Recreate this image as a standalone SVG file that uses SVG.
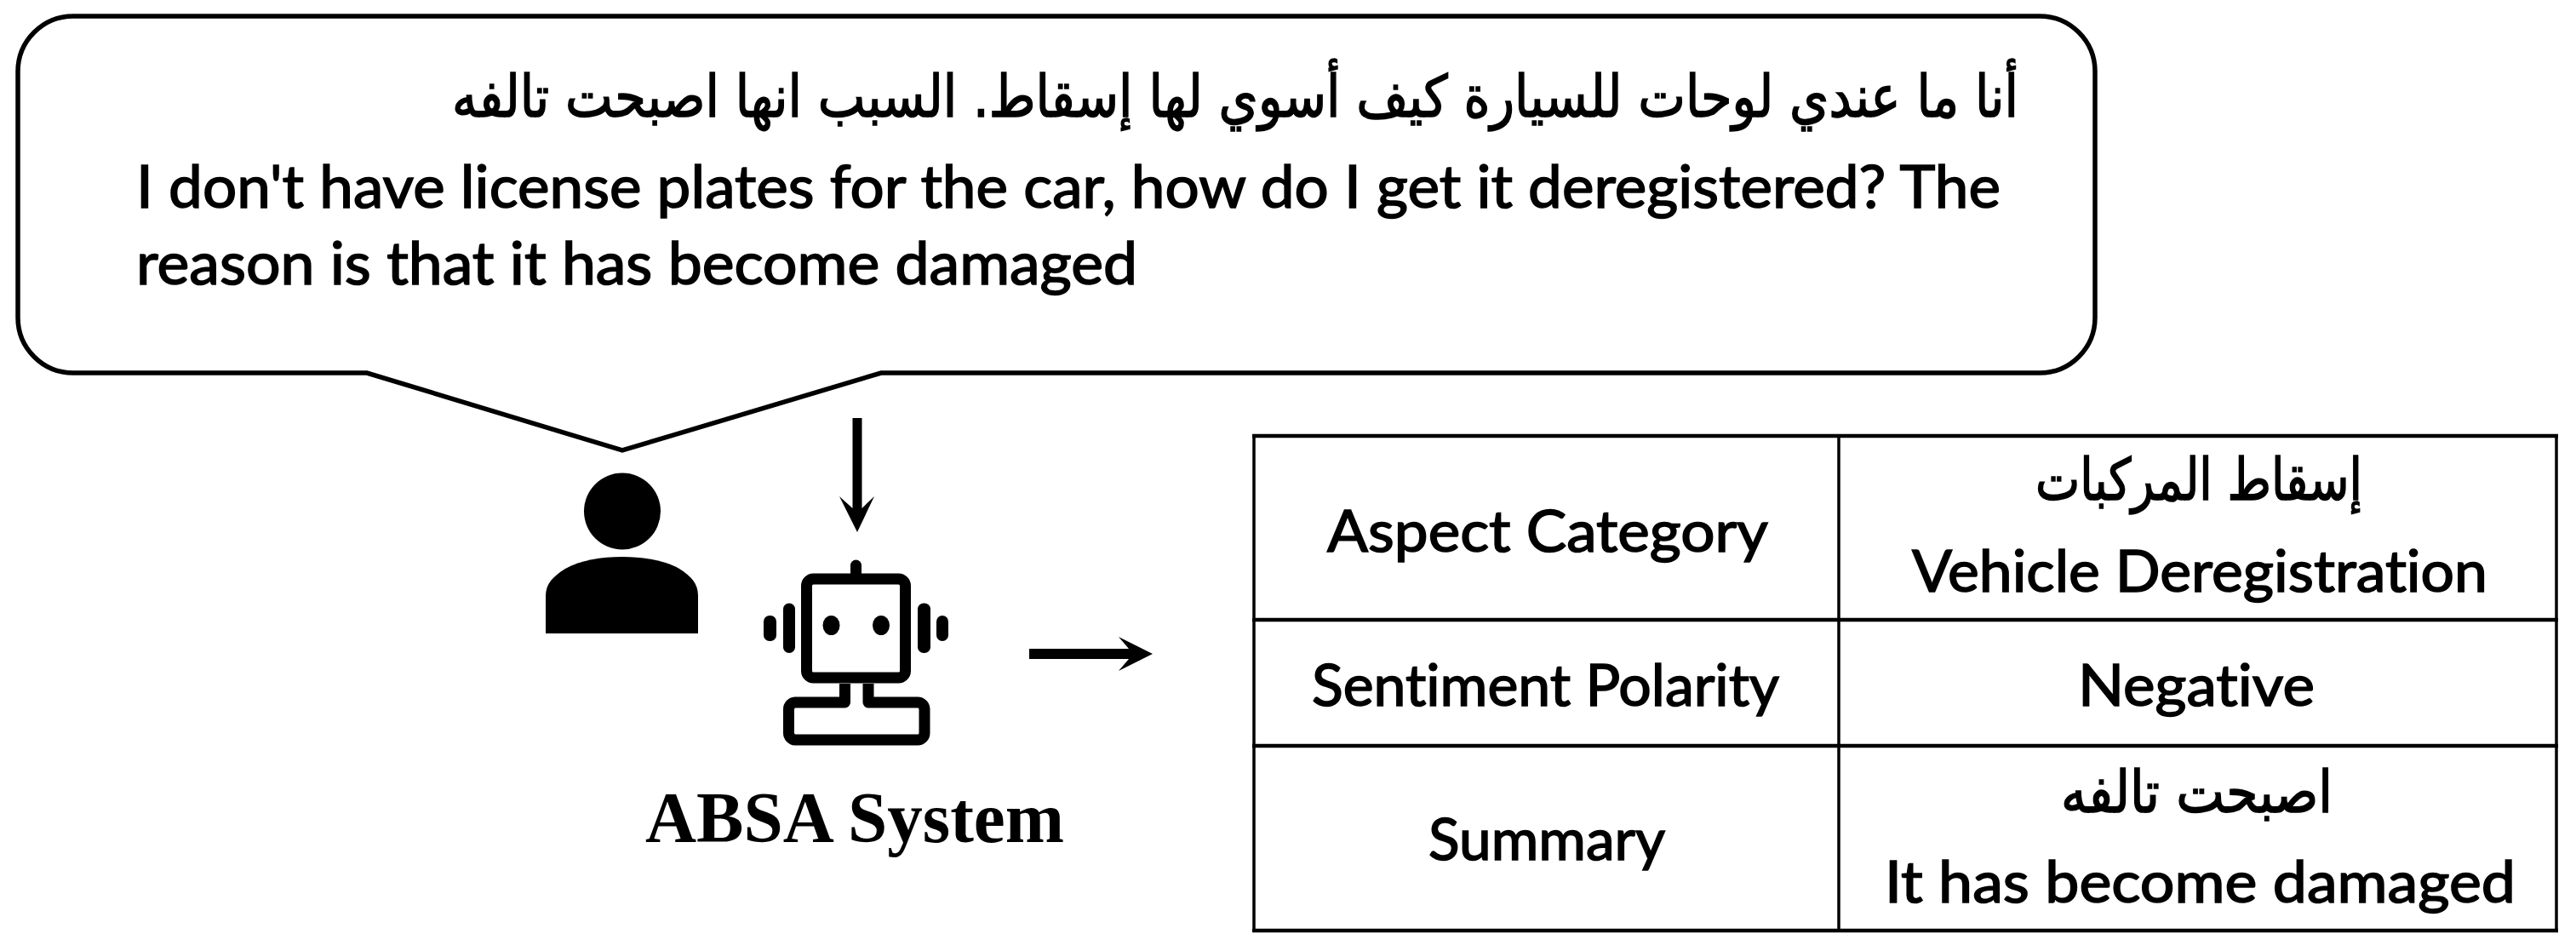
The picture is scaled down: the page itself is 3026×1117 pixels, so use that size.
<svg xmlns="http://www.w3.org/2000/svg" width="3026" height="1117" viewBox="0 0 3026 1117">
<style>
.en{font-family:"Lato","Liberation Sans",sans-serif;fill:#000;stroke:#000;stroke-width:1.6;font-variant-ligatures:none}
.b{font-size:70px}
.t{font-size:68px}
.ar{font-family:"DejaVu Sans",sans-serif;fill:#000;stroke:#000;stroke-width:1.6;font-size:68px}
.line{stroke:#000;fill:none}
.blk{fill:#000}
.rob{fill:none;stroke:#000;stroke-width:13;stroke-linejoin:round}
</style>
<rect width="3026" height="1117" fill="#fff"/>
<g id="bubble">
<path class="line" stroke-width="5.500" d="M86 19H2396A65 65 0 0 1 2461 84V373A65 65 0 0 1 2396 438H1035L731 529L431 438H86A65 65 0 0 1 21 373V84A65 65 0 0 1 86 19Z"/>
<text class="ar" x="531" y="137" textLength="1840" lengthAdjust="spacingAndGlyphs">أنا ما عندي لوحات للسيارة كيف أسوي لها إسقاط. السبب انها اصبحت تالفه</text>
<text class="en b" x="160" y="244" textLength="2190" lengthAdjust="spacingAndGlyphs">I don't have license plates for the car, how do I get it deregistered? The</text>
<text class="en b" x="160" y="334" textLength="1176" lengthAdjust="spacingAndGlyphs">reason is that it has become damaged</text>
</g>
<g id="user">
<ellipse class="blk" cx="731" cy="600.500" rx="45" ry="45"/>
<path class="blk" d="M641 744V700C641 685 650 677 664 668C682 658 706 654 731 654C756 654 780 658 798 668C812 677 820 685 820 700V744Z"/>
</g>
<g id="absa-system">
<rect class="rob" x="947.500" y="680" width="116" height="116" rx="8"/>
<path class="blk" d="M999 674V664A6.500 6.500 0 0 1 1012 664V674Z"/>
<ellipse class="blk" cx="976.500" cy="734.500" rx="10" ry="11.500"/>
<ellipse class="blk" cx="1035" cy="734.500" rx="10" ry="11.500"/>
<rect class="blk" x="920" y="708.500" width="14" height="58.500" rx="7"/>
<rect class="blk" x="897" y="723" width="15" height="30" rx="7"/>
<rect class="blk" x="1078" y="708.500" width="15" height="58.500" rx="7"/>
<rect class="blk" x="1100" y="723" width="14" height="30" rx="7"/>
<path class="rob" d="M992.500 803V825H934A8 8 0 0 0 926.500 833V861A8 8 0 0 0 934 869H1078A8 8 0 0 0 1086 861V833A8 8 0 0 0 1078 825H1020V803"/>
<text x="758" y="989" font-family="Liberation Serif,serif" font-weight="700" font-size="84" textLength="492" lengthAdjust="spacingAndGlyphs" fill="#000">ABSA System</text>
</g>
<g id="connectors">
<path class="blk" d="M1001.500 491H1012.500V597L1027 583L1007 625L986 583L1001.500 597Z"/>
<path class="blk" d="M1209 762H1326L1314 748L1354 768L1314 788L1326 774H1209Z"/>
</g>
<g id="result-table">
<path class="line" stroke-width="4.500" d="M1471 512H3005M1471 728H3005M1471 876H3005M1471 1093H3005"/>
<path class="line" stroke-width="3.500" d="M1473 510V1095M2160 510V1095M3003 510V1095"/>
<text class="en t" x="1559" y="648" textLength="518" lengthAdjust="spacingAndGlyphs">Aspect Category</text>
<text class="ar" x="2391" y="587" textLength="384" lengthAdjust="spacingAndGlyphs">إسقاط المركبات</text>
<text class="en t" x="2246" y="695" textLength="676" lengthAdjust="spacingAndGlyphs">Vehicle Deregistration</text>
<text class="en t" x="1541" y="829" textLength="549" lengthAdjust="spacingAndGlyphs">Sentiment Polarity</text>
<text class="en t" x="2441" y="829" textLength="278" lengthAdjust="spacingAndGlyphs">Negative</text>
<text class="en t" x="1678" y="1010" textLength="278" lengthAdjust="spacingAndGlyphs">Summary</text>
<text class="ar" x="2421" y="954" textLength="319" lengthAdjust="spacingAndGlyphs">اصبحت تالفه</text>
<text class="en t" x="2214" y="1060" textLength="741" lengthAdjust="spacingAndGlyphs">It has become damaged</text>
</g>
</svg>
